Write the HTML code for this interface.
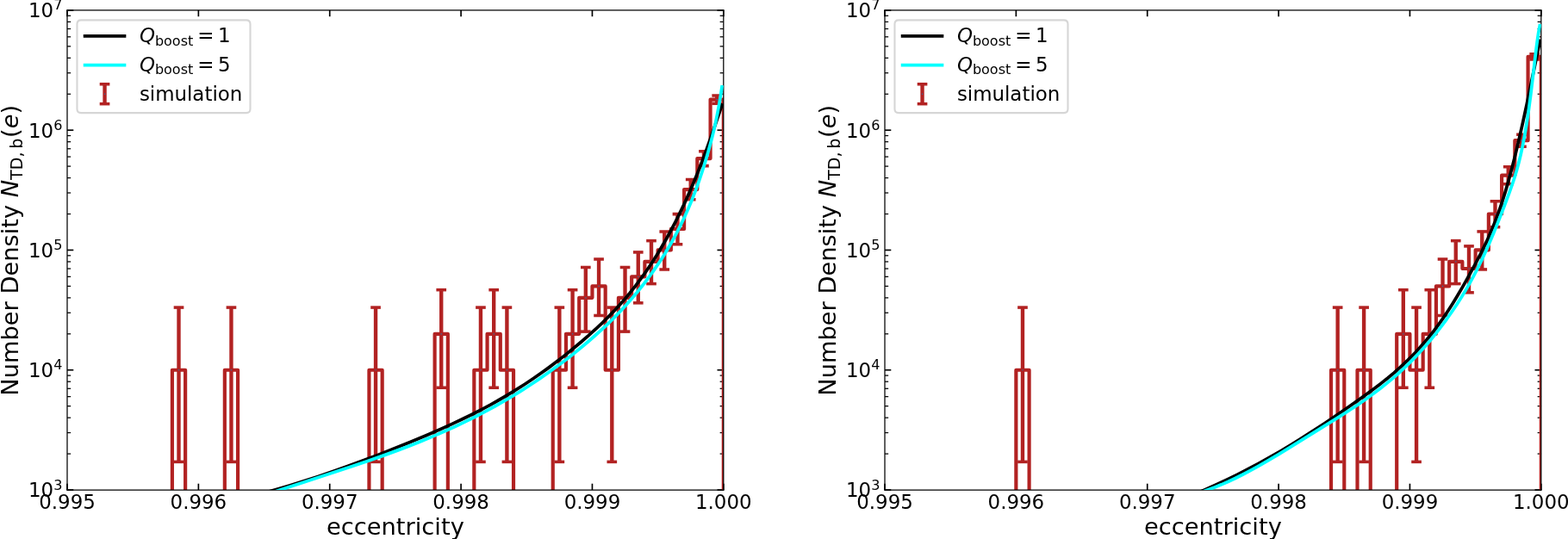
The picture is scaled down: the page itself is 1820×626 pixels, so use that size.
<!DOCTYPE html>
<html><head><meta charset="utf-8"><style>html,body{margin:0;padding:0;background:#fff;}svg{display:block;}</style></head><body>
<svg width="1820" height="626" viewBox="0 0 1820 626" version="1.1">
 <defs>
  <style type="text/css">*{stroke-linejoin: round; stroke-linecap: butt}</style>
 </defs>
 <g id="figure_1">
  <g id="patch_1">
   <path d="M 0 626 
L 1820 626 
L 1820 0 
L 0 0 
z
" style="fill: #ffffff"/>
  </g>
  <g id="axes_1">
   <g id="patch_2">
    <path d="M 78 569 
L 839.8 569 
L 839.8 11.9 
L 78 11.9 
z
" style="fill: #ffffff"/>
   </g>
   <g id="matplotlib.axis_1">
    <g id="xtick_1">
     <g id="line2d_1">
      <g>
       <path d="M 0 0 L 0 -7.291667" transform="translate(78 569)" style="stroke: #000000; stroke-width: 1.666667"/>
      </g>
     </g>
     <g id="line2d_2">
      <g>
       <path d="M 0 0 L 0 7.291667" transform="translate(78 11.9)" style="stroke: #000000; stroke-width: 1.666667"/>
      </g>
     </g>
     <g id="text_1">
      <text style="font-size: 22.916667px; font-family: 'DejaVu Sans', sans-serif; text-anchor: middle" x="78" y="590.579753" transform="rotate(-0 78 590.579753)">0.995</text>
     </g>
    </g>
    <g id="xtick_2">
     <g id="line2d_3">
      <g>
       <path d="M 0 0 L 0 -7.291667" transform="translate(230.36 569)" style="stroke: #000000; stroke-width: 1.666667"/>
      </g>
     </g>
     <g id="line2d_4">
      <g>
       <path d="M 0 0 L 0 7.291667" transform="translate(230.36 11.9)" style="stroke: #000000; stroke-width: 1.666667"/>
      </g>
     </g>
     <g id="text_2">
      <text style="font-size: 22.916667px; font-family: 'DejaVu Sans', sans-serif; text-anchor: middle" x="230.36" y="590.579753" transform="rotate(-0 230.36 590.579753)">0.996</text>
     </g>
    </g>
    <g id="xtick_3">
     <g id="line2d_5">
      <g>
       <path d="M 0 0 L 0 -7.291667" transform="translate(382.72 569)" style="stroke: #000000; stroke-width: 1.666667"/>
      </g>
     </g>
     <g id="line2d_6">
      <g>
       <path d="M 0 0 L 0 7.291667" transform="translate(382.72 11.9)" style="stroke: #000000; stroke-width: 1.666667"/>
      </g>
     </g>
     <g id="text_3">
      <text style="font-size: 22.916667px; font-family: 'DejaVu Sans', sans-serif; text-anchor: middle" x="382.72" y="590.579753" transform="rotate(-0 382.72 590.579753)">0.997</text>
     </g>
    </g>
    <g id="xtick_4">
     <g id="line2d_7">
      <g>
       <path d="M 0 0 L 0 -7.291667" transform="translate(535.08 569)" style="stroke: #000000; stroke-width: 1.666667"/>
      </g>
     </g>
     <g id="line2d_8">
      <g>
       <path d="M 0 0 L 0 7.291667" transform="translate(535.08 11.9)" style="stroke: #000000; stroke-width: 1.666667"/>
      </g>
     </g>
     <g id="text_4">
      <text style="font-size: 22.916667px; font-family: 'DejaVu Sans', sans-serif; text-anchor: middle" x="535.08" y="590.579753" transform="rotate(-0 535.08 590.579753)">0.998</text>
     </g>
    </g>
    <g id="xtick_5">
     <g id="line2d_9">
      <g>
       <path d="M 0 0 L 0 -7.291667" transform="translate(687.44 569)" style="stroke: #000000; stroke-width: 1.666667"/>
      </g>
     </g>
     <g id="line2d_10">
      <g>
       <path d="M 0 0 L 0 7.291667" transform="translate(687.44 11.9)" style="stroke: #000000; stroke-width: 1.666667"/>
      </g>
     </g>
     <g id="text_5">
      <text style="font-size: 22.916667px; font-family: 'DejaVu Sans', sans-serif; text-anchor: middle" x="687.44" y="590.579753" transform="rotate(-0 687.44 590.579753)">0.999</text>
     </g>
    </g>
    <g id="xtick_6">
     <g id="line2d_11">
      <g>
       <path d="M 0 0 L 0 -7.291667" transform="translate(839.8 569)" style="stroke: #000000; stroke-width: 1.666667"/>
      </g>
     </g>
     <g id="line2d_12">
      <g>
       <path d="M 0 0 L 0 7.291667" transform="translate(839.8 11.9)" style="stroke: #000000; stroke-width: 1.666667"/>
      </g>
     </g>
     <g id="text_6">
      <text style="font-size: 22.916667px; font-family: 'DejaVu Sans', sans-serif; text-anchor: middle" x="839.8" y="590.579753" transform="rotate(-0 839.8 590.579753)">1.000</text>
     </g>
    </g>
    <g id="text_7">
     <text style="font-size: 27.291667px; font-family: 'DejaVu Sans', sans-serif; text-anchor: middle" x="458.9" y="621.187272" transform="rotate(-0 458.9 621.187272)">eccentricity</text>
    </g>
   </g>
   <g id="matplotlib.axis_2">
    <g id="ytick_1">
     <g id="line2d_13">
      <g>
       <path d="M 0 0 L 7.291667 0" transform="translate(78 569)" style="stroke: #000000; stroke-width: 1.666667"/>
      </g>
     </g>
     <g id="line2d_14">
      <g>
       <path d="M 0 0 L -7.291667 0" transform="translate(839.8 569)" style="stroke: #000000; stroke-width: 1.666667"/>
      </g>
     </g>
     <g id="text_8">
      <g transform="translate(32.958333 577.706543)">
       <text style="white-space: pre"><tspan x="0 14.553772" y="-0.240625" style="font-size: 22.916667px; font-family: 'DejaVu Sans', sans-serif">10</tspan><tspan x="29.327661" y="-9.045313" style="font-size: 16.041667px; font-family: 'DejaVu Sans', sans-serif">3</tspan></text>
      </g>
     </g>
    </g>
    <g id="ytick_2">
     <g id="line2d_15">
      <g>
       <path d="M 0 0 L 7.291667 0" transform="translate(78 429.725)" style="stroke: #000000; stroke-width: 1.666667"/>
      </g>
     </g>
     <g id="line2d_16">
      <g>
       <path d="M 0 0 L -7.291667 0" transform="translate(839.8 429.725)" style="stroke: #000000; stroke-width: 1.666667"/>
      </g>
     </g>
     <g id="text_9">
      <g transform="translate(32.958333 438.431543)">
       <text style="white-space: pre"><tspan x="0 14.553772" y="-0.459375" style="font-size: 22.916667px; font-family: 'DejaVu Sans', sans-serif">10</tspan><tspan x="29.327661" y="-9.264063" style="font-size: 16.041667px; font-family: 'DejaVu Sans', sans-serif">4</tspan></text>
      </g>
     </g>
    </g>
    <g id="ytick_3">
     <g id="line2d_17">
      <g>
       <path d="M 0 0 L 7.291667 0" transform="translate(78 290.45)" style="stroke: #000000; stroke-width: 1.666667"/>
      </g>
     </g>
     <g id="line2d_18">
      <g>
       <path d="M 0 0 L -7.291667 0" transform="translate(839.8 290.45)" style="stroke: #000000; stroke-width: 1.666667"/>
      </g>
     </g>
     <g id="text_10">
      <g transform="translate(32.958333 299.156543)">
       <text style="white-space: pre"><tspan x="0 14.553772" y="-0.459375" style="font-size: 22.916667px; font-family: 'DejaVu Sans', sans-serif">10</tspan><tspan x="29.327661" y="-9.264063" style="font-size: 16.041667px; font-family: 'DejaVu Sans', sans-serif">5</tspan></text>
      </g>
     </g>
    </g>
    <g id="ytick_4">
     <g id="line2d_19">
      <g>
       <path d="M 0 0 L 7.291667 0" transform="translate(78 151.175)" style="stroke: #000000; stroke-width: 1.666667"/>
      </g>
     </g>
     <g id="line2d_20">
      <g>
       <path d="M 0 0 L -7.291667 0" transform="translate(839.8 151.175)" style="stroke: #000000; stroke-width: 1.666667"/>
      </g>
     </g>
     <g id="text_11">
      <g transform="translate(32.958333 159.881543)">
       <text style="white-space: pre"><tspan x="0 14.553772" y="-0.240625" style="font-size: 22.916667px; font-family: 'DejaVu Sans', sans-serif">10</tspan><tspan x="29.327661" y="-9.045313" style="font-size: 16.041667px; font-family: 'DejaVu Sans', sans-serif">6</tspan></text>
      </g>
     </g>
    </g>
    <g id="ytick_5">
     <g id="line2d_21">
      <g>
       <path d="M 0 0 L 7.291667 0" transform="translate(78 11.9)" style="stroke: #000000; stroke-width: 1.666667"/>
      </g>
     </g>
     <g id="line2d_22">
      <g>
       <path d="M 0 0 L -7.291667 0" transform="translate(839.8 11.9)" style="stroke: #000000; stroke-width: 1.666667"/>
      </g>
     </g>
     <g id="text_12">
      <g transform="translate(32.958333 20.606543)">
       <text style="white-space: pre"><tspan x="0 14.553772" y="-0.459375" style="font-size: 22.916667px; font-family: 'DejaVu Sans', sans-serif">10</tspan><tspan x="29.327661" y="-9.264063" style="font-size: 16.041667px; font-family: 'DejaVu Sans', sans-serif">7</tspan></text>
      </g>
     </g>
    </g>
    <g id="ytick_6">
     <g id="line2d_23">
      <g>
       <path d="M 0 0 L 4.166667 0" transform="translate(78 527.074047)" style="stroke: #000000; stroke-width: 1.25"/>
      </g>
     </g>
     <g id="line2d_24">
      <g>
       <path d="M 0 0 L -4.166667 0" transform="translate(839.8 527.074047)" style="stroke: #000000; stroke-width: 1.25"/>
      </g>
     </g>
    </g>
    <g id="ytick_7">
     <g id="line2d_25">
      <g>
       <path d="M 0 0 L 4.166667 0" transform="translate(78 502.548937)" style="stroke: #000000; stroke-width: 1.25"/>
      </g>
     </g>
     <g id="line2d_26">
      <g>
       <path d="M 0 0 L -4.166667 0" transform="translate(839.8 502.548937)" style="stroke: #000000; stroke-width: 1.25"/>
      </g>
     </g>
    </g>
    <g id="ytick_8">
     <g id="line2d_27">
      <g>
       <path d="M 0 0 L 4.166667 0" transform="translate(78 485.148095)" style="stroke: #000000; stroke-width: 1.25"/>
      </g>
     </g>
     <g id="line2d_28">
      <g>
       <path d="M 0 0 L -4.166667 0" transform="translate(839.8 485.148095)" style="stroke: #000000; stroke-width: 1.25"/>
      </g>
     </g>
    </g>
    <g id="ytick_9">
     <g id="line2d_29">
      <g>
       <path d="M 0 0 L 4.166667 0" transform="translate(78 471.650953)" style="stroke: #000000; stroke-width: 1.25"/>
      </g>
     </g>
     <g id="line2d_30">
      <g>
       <path d="M 0 0 L -4.166667 0" transform="translate(839.8 471.650953)" style="stroke: #000000; stroke-width: 1.25"/>
      </g>
     </g>
    </g>
    <g id="ytick_10">
     <g id="line2d_31">
      <g>
       <path d="M 0 0 L 4.166667 0" transform="translate(78 460.622985)" style="stroke: #000000; stroke-width: 1.25"/>
      </g>
     </g>
     <g id="line2d_32">
      <g>
       <path d="M 0 0 L -4.166667 0" transform="translate(839.8 460.622985)" style="stroke: #000000; stroke-width: 1.25"/>
      </g>
     </g>
    </g>
    <g id="ytick_11">
     <g id="line2d_33">
      <g>
       <path d="M 0 0 L 4.166667 0" transform="translate(78 451.29897)" style="stroke: #000000; stroke-width: 1.25"/>
      </g>
     </g>
     <g id="line2d_34">
      <g>
       <path d="M 0 0 L -4.166667 0" transform="translate(839.8 451.29897)" style="stroke: #000000; stroke-width: 1.25"/>
      </g>
     </g>
    </g>
    <g id="ytick_12">
     <g id="line2d_35">
      <g>
       <path d="M 0 0 L 4.166667 0" transform="translate(78 443.222142)" style="stroke: #000000; stroke-width: 1.25"/>
      </g>
     </g>
     <g id="line2d_36">
      <g>
       <path d="M 0 0 L -4.166667 0" transform="translate(839.8 443.222142)" style="stroke: #000000; stroke-width: 1.25"/>
      </g>
     </g>
    </g>
    <g id="ytick_13">
     <g id="line2d_37">
      <g>
       <path d="M 0 0 L 4.166667 0" transform="translate(78 436.097874)" style="stroke: #000000; stroke-width: 1.25"/>
      </g>
     </g>
     <g id="line2d_38">
      <g>
       <path d="M 0 0 L -4.166667 0" transform="translate(839.8 436.097874)" style="stroke: #000000; stroke-width: 1.25"/>
      </g>
     </g>
    </g>
    <g id="ytick_14">
     <g id="line2d_39">
      <g>
       <path d="M 0 0 L 4.166667 0" transform="translate(78 387.799047)" style="stroke: #000000; stroke-width: 1.25"/>
      </g>
     </g>
     <g id="line2d_40">
      <g>
       <path d="M 0 0 L -4.166667 0" transform="translate(839.8 387.799047)" style="stroke: #000000; stroke-width: 1.25"/>
      </g>
     </g>
    </g>
    <g id="ytick_15">
     <g id="line2d_41">
      <g>
       <path d="M 0 0 L 4.166667 0" transform="translate(78 363.273937)" style="stroke: #000000; stroke-width: 1.25"/>
      </g>
     </g>
     <g id="line2d_42">
      <g>
       <path d="M 0 0 L -4.166667 0" transform="translate(839.8 363.273937)" style="stroke: #000000; stroke-width: 1.25"/>
      </g>
     </g>
    </g>
    <g id="ytick_16">
     <g id="line2d_43">
      <g>
       <path d="M 0 0 L 4.166667 0" transform="translate(78 345.873095)" style="stroke: #000000; stroke-width: 1.25"/>
      </g>
     </g>
     <g id="line2d_44">
      <g>
       <path d="M 0 0 L -4.166667 0" transform="translate(839.8 345.873095)" style="stroke: #000000; stroke-width: 1.25"/>
      </g>
     </g>
    </g>
    <g id="ytick_17">
     <g id="line2d_45">
      <g>
       <path d="M 0 0 L 4.166667 0" transform="translate(78 332.375953)" style="stroke: #000000; stroke-width: 1.25"/>
      </g>
     </g>
     <g id="line2d_46">
      <g>
       <path d="M 0 0 L -4.166667 0" transform="translate(839.8 332.375953)" style="stroke: #000000; stroke-width: 1.25"/>
      </g>
     </g>
    </g>
    <g id="ytick_18">
     <g id="line2d_47">
      <g>
       <path d="M 0 0 L 4.166667 0" transform="translate(78 321.347985)" style="stroke: #000000; stroke-width: 1.25"/>
      </g>
     </g>
     <g id="line2d_48">
      <g>
       <path d="M 0 0 L -4.166667 0" transform="translate(839.8 321.347985)" style="stroke: #000000; stroke-width: 1.25"/>
      </g>
     </g>
    </g>
    <g id="ytick_19">
     <g id="line2d_49">
      <g>
       <path d="M 0 0 L 4.166667 0" transform="translate(78 312.02397)" style="stroke: #000000; stroke-width: 1.25"/>
      </g>
     </g>
     <g id="line2d_50">
      <g>
       <path d="M 0 0 L -4.166667 0" transform="translate(839.8 312.02397)" style="stroke: #000000; stroke-width: 1.25"/>
      </g>
     </g>
    </g>
    <g id="ytick_20">
     <g id="line2d_51">
      <g>
       <path d="M 0 0 L 4.166667 0" transform="translate(78 303.947142)" style="stroke: #000000; stroke-width: 1.25"/>
      </g>
     </g>
     <g id="line2d_52">
      <g>
       <path d="M 0 0 L -4.166667 0" transform="translate(839.8 303.947142)" style="stroke: #000000; stroke-width: 1.25"/>
      </g>
     </g>
    </g>
    <g id="ytick_21">
     <g id="line2d_53">
      <g>
       <path d="M 0 0 L 4.166667 0" transform="translate(78 296.822874)" style="stroke: #000000; stroke-width: 1.25"/>
      </g>
     </g>
     <g id="line2d_54">
      <g>
       <path d="M 0 0 L -4.166667 0" transform="translate(839.8 296.822874)" style="stroke: #000000; stroke-width: 1.25"/>
      </g>
     </g>
    </g>
    <g id="ytick_22">
     <g id="line2d_55">
      <g>
       <path d="M 0 0 L 4.166667 0" transform="translate(78 248.524047)" style="stroke: #000000; stroke-width: 1.25"/>
      </g>
     </g>
     <g id="line2d_56">
      <g>
       <path d="M 0 0 L -4.166667 0" transform="translate(839.8 248.524047)" style="stroke: #000000; stroke-width: 1.25"/>
      </g>
     </g>
    </g>
    <g id="ytick_23">
     <g id="line2d_57">
      <g>
       <path d="M 0 0 L 4.166667 0" transform="translate(78 223.998937)" style="stroke: #000000; stroke-width: 1.25"/>
      </g>
     </g>
     <g id="line2d_58">
      <g>
       <path d="M 0 0 L -4.166667 0" transform="translate(839.8 223.998937)" style="stroke: #000000; stroke-width: 1.25"/>
      </g>
     </g>
    </g>
    <g id="ytick_24">
     <g id="line2d_59">
      <g>
       <path d="M 0 0 L 4.166667 0" transform="translate(78 206.598095)" style="stroke: #000000; stroke-width: 1.25"/>
      </g>
     </g>
     <g id="line2d_60">
      <g>
       <path d="M 0 0 L -4.166667 0" transform="translate(839.8 206.598095)" style="stroke: #000000; stroke-width: 1.25"/>
      </g>
     </g>
    </g>
    <g id="ytick_25">
     <g id="line2d_61">
      <g>
       <path d="M 0 0 L 4.166667 0" transform="translate(78 193.100953)" style="stroke: #000000; stroke-width: 1.25"/>
      </g>
     </g>
     <g id="line2d_62">
      <g>
       <path d="M 0 0 L -4.166667 0" transform="translate(839.8 193.100953)" style="stroke: #000000; stroke-width: 1.25"/>
      </g>
     </g>
    </g>
    <g id="ytick_26">
     <g id="line2d_63">
      <g>
       <path d="M 0 0 L 4.166667 0" transform="translate(78 182.072985)" style="stroke: #000000; stroke-width: 1.25"/>
      </g>
     </g>
     <g id="line2d_64">
      <g>
       <path d="M 0 0 L -4.166667 0" transform="translate(839.8 182.072985)" style="stroke: #000000; stroke-width: 1.25"/>
      </g>
     </g>
    </g>
    <g id="ytick_27">
     <g id="line2d_65">
      <g>
       <path d="M 0 0 L 4.166667 0" transform="translate(78 172.74897)" style="stroke: #000000; stroke-width: 1.25"/>
      </g>
     </g>
     <g id="line2d_66">
      <g>
       <path d="M 0 0 L -4.166667 0" transform="translate(839.8 172.74897)" style="stroke: #000000; stroke-width: 1.25"/>
      </g>
     </g>
    </g>
    <g id="ytick_28">
     <g id="line2d_67">
      <g>
       <path d="M 0 0 L 4.166667 0" transform="translate(78 164.672142)" style="stroke: #000000; stroke-width: 1.25"/>
      </g>
     </g>
     <g id="line2d_68">
      <g>
       <path d="M 0 0 L -4.166667 0" transform="translate(839.8 164.672142)" style="stroke: #000000; stroke-width: 1.25"/>
      </g>
     </g>
    </g>
    <g id="ytick_29">
     <g id="line2d_69">
      <g>
       <path d="M 0 0 L 4.166667 0" transform="translate(78 157.547874)" style="stroke: #000000; stroke-width: 1.25"/>
      </g>
     </g>
     <g id="line2d_70">
      <g>
       <path d="M 0 0 L -4.166667 0" transform="translate(839.8 157.547874)" style="stroke: #000000; stroke-width: 1.25"/>
      </g>
     </g>
    </g>
    <g id="ytick_30">
     <g id="line2d_71">
      <g>
       <path d="M 0 0 L 4.166667 0" transform="translate(78 109.249047)" style="stroke: #000000; stroke-width: 1.25"/>
      </g>
     </g>
     <g id="line2d_72">
      <g>
       <path d="M 0 0 L -4.166667 0" transform="translate(839.8 109.249047)" style="stroke: #000000; stroke-width: 1.25"/>
      </g>
     </g>
    </g>
    <g id="ytick_31">
     <g id="line2d_73">
      <g>
       <path d="M 0 0 L 4.166667 0" transform="translate(78 84.723937)" style="stroke: #000000; stroke-width: 1.25"/>
      </g>
     </g>
     <g id="line2d_74">
      <g>
       <path d="M 0 0 L -4.166667 0" transform="translate(839.8 84.723937)" style="stroke: #000000; stroke-width: 1.25"/>
      </g>
     </g>
    </g>
    <g id="ytick_32">
     <g id="line2d_75">
      <g>
       <path d="M 0 0 L 4.166667 0" transform="translate(78 67.323095)" style="stroke: #000000; stroke-width: 1.25"/>
      </g>
     </g>
     <g id="line2d_76">
      <g>
       <path d="M 0 0 L -4.166667 0" transform="translate(839.8 67.323095)" style="stroke: #000000; stroke-width: 1.25"/>
      </g>
     </g>
    </g>
    <g id="ytick_33">
     <g id="line2d_77">
      <g>
       <path d="M 0 0 L 4.166667 0" transform="translate(78 53.825953)" style="stroke: #000000; stroke-width: 1.25"/>
      </g>
     </g>
     <g id="line2d_78">
      <g>
       <path d="M 0 0 L -4.166667 0" transform="translate(839.8 53.825953)" style="stroke: #000000; stroke-width: 1.25"/>
      </g>
     </g>
    </g>
    <g id="ytick_34">
     <g id="line2d_79">
      <g>
       <path d="M 0 0 L 4.166667 0" transform="translate(78 42.797985)" style="stroke: #000000; stroke-width: 1.25"/>
      </g>
     </g>
     <g id="line2d_80">
      <g>
       <path d="M 0 0 L -4.166667 0" transform="translate(839.8 42.797985)" style="stroke: #000000; stroke-width: 1.25"/>
      </g>
     </g>
    </g>
    <g id="ytick_35">
     <g id="line2d_81">
      <g>
       <path d="M 0 0 L 4.166667 0" transform="translate(78 33.47397)" style="stroke: #000000; stroke-width: 1.25"/>
      </g>
     </g>
     <g id="line2d_82">
      <g>
       <path d="M 0 0 L -4.166667 0" transform="translate(839.8 33.47397)" style="stroke: #000000; stroke-width: 1.25"/>
      </g>
     </g>
    </g>
    <g id="ytick_36">
     <g id="line2d_83">
      <g>
       <path d="M 0 0 L 4.166667 0" transform="translate(78 25.397142)" style="stroke: #000000; stroke-width: 1.25"/>
      </g>
     </g>
     <g id="line2d_84">
      <g>
       <path d="M 0 0 L -4.166667 0" transform="translate(839.8 25.397142)" style="stroke: #000000; stroke-width: 1.25"/>
      </g>
     </g>
    </g>
    <g id="ytick_37">
     <g id="line2d_85">
      <g>
       <path d="M 0 0 L 4.166667 0" transform="translate(78 18.272874)" style="stroke: #000000; stroke-width: 1.25"/>
      </g>
     </g>
     <g id="line2d_86">
      <g>
       <path d="M 0 0 L -4.166667 0" transform="translate(839.8 18.272874)" style="stroke: #000000; stroke-width: 1.25"/>
      </g>
     </g>
    </g>
    <g id="text_13">
     <g transform="translate(21.96875 459.658333) rotate(-90)">
      <text style="white-space: pre"><tspan x="0 20.384277 37.655029 64.199829 81.497192 98.262329 109.465698 118.127686 139.110718 155.875854 173.146606 187.34375 194.914673 205.599121 221.725586" y="-0.484375" style="font-size: 27.291667px; font-family: 'DejaVu Sans', sans-serif">Number Density </tspan><tspan x="230.387573" y="-0.484375" style="font-style: oblique; font-size: 27.291667px; font-family: 'DejaVu Sans', sans-serif">N</tspan><tspan x="250.771851 262.423621 277.111743 286.891406" y="3.945312" style="font-size: 19.104167px; font-family: 'DejaVu Sans', sans-serif">TD,b</tspan><tspan x="299.737842" y="-0.484375" style="font-size: 27.291667px; font-family: 'DejaVu Sans', sans-serif">(</tspan><tspan x="310.369067" y="-0.484375" style="font-style: oblique; font-size: 27.291667px; font-family: 'DejaVu Sans', sans-serif">e</tspan><tspan x="327.134204" y="-0.484375" style="font-size: 27.291667px; font-family: 'DejaVu Sans', sans-serif">)</tspan></text>
     </g>
    </g>
   </g>
   <g id="line2d_87">
    <path d="M 199.888 627 
L 199.888 429.725 
L 215.124 429.725 
L 215.124 627 
M 260.832 627 
L 260.832 429.725 
L 276.068 429.725 
L 276.068 627 
M 428.428 627 
L 428.428 429.725 
L 443.664 429.725 
L 443.664 627 
M 504.608 627 
L 504.608 387.799047 
L 519.844 387.799047 
L 519.844 627 
M 550.316 627 
L 550.316 429.725 
L 565.552 429.725 
L 565.552 387.799047 
L 580.788 387.799047 
L 580.788 429.725 
L 596.024 429.725 
L 596.024 627 
M 641.732 627 
L 641.732 429.725 
L 656.968 429.725 
L 656.968 387.799047 
L 672.204 387.799047 
L 672.204 345.873095 
L 687.44 345.873095 
L 687.44 332.375953 
L 702.676 332.375953 
L 702.676 429.725 
L 717.912 429.725 
L 717.912 345.873095 
L 733.148 345.873095 
L 733.148 321.347985 
L 748.384 321.347985 
L 748.384 303.947142 
L 763.62 303.947142 
L 763.62 290.45 
L 778.856 290.45 
L 778.856 265.92489 
L 794.092 265.92489 
L 794.092 220.095237 
L 809.328 220.095237 
L 809.328 184.123566 
L 824.564 184.123566 
L 824.564 115.621922 
L 839.8 115.621922 
L 839.8 627 
" clip-path="url(#p58a983189e)" style="fill: none; stroke: #b22222; stroke-width: 4.166667; stroke-linecap: square"/>
   </g>
   <g id="patch_3">
    <path d="M 78 569 
L 78 11.9 
" style="fill: none; stroke: #000000; stroke-width: 1.25; stroke-linejoin: miter; stroke-linecap: square"/>
   </g>
   <g id="patch_4">
    <path d="M 839.8 569 
L 839.8 11.9 
" style="fill: none; stroke: #000000; stroke-width: 1.25; stroke-linejoin: miter; stroke-linecap: square"/>
   </g>
   <g id="patch_5">
    <path d="M 78 569 
L 839.8 569 
" style="fill: none; stroke: #000000; stroke-width: 1.25; stroke-linejoin: miter; stroke-linecap: square"/>
   </g>
   <g id="patch_6">
    <path d="M 78 11.9 
L 839.8 11.9 
" style="fill: none; stroke: #000000; stroke-width: 1.25; stroke-linejoin: miter; stroke-linecap: square"/>
   </g>
   <g id="LineCollection_1">
    <path d="M 207.506 536.384234 
L 207.506 357.091125 
" clip-path="url(#p58a983189e)" style="fill: none; stroke: #b22222; stroke-width: 4.375"/>
    <path d="M 268.45 536.384234 
L 268.45 357.091125 
" clip-path="url(#p58a983189e)" style="fill: none; stroke: #b22222; stroke-width: 4.375"/>
    <path d="M 436.046 536.384234 
L 436.046 357.091125 
" clip-path="url(#p58a983189e)" style="fill: none; stroke: #b22222; stroke-width: 4.375"/>
    <path d="M 512.226 450.268781 
L 512.226 336.65746 
" clip-path="url(#p58a983189e)" style="fill: none; stroke: #b22222; stroke-width: 4.375"/>
    <path d="M 557.934 536.384234 
L 557.934 357.091125 
" clip-path="url(#p58a983189e)" style="fill: none; stroke: #b22222; stroke-width: 4.375"/>
    <path d="M 573.17 450.268781 
L 573.17 336.65746 
" clip-path="url(#p58a983189e)" style="fill: none; stroke: #b22222; stroke-width: 4.375"/>
    <path d="M 588.406 536.384234 
L 588.406 357.091125 
" clip-path="url(#p58a983189e)" style="fill: none; stroke: #b22222; stroke-width: 4.375"/>
    <path d="M 649.35 536.384234 
L 649.35 357.091125 
" clip-path="url(#p58a983189e)" style="fill: none; stroke: #b22222; stroke-width: 4.375"/>
    <path d="M 664.586 450.268781 
L 664.586 336.65746 
" clip-path="url(#p58a983189e)" style="fill: none; stroke: #b22222; stroke-width: 4.375"/>
    <path d="M 679.822 385.108744 
L 679.822 310.492906 
" clip-path="url(#p58a983189e)" style="fill: none; stroke: #b22222; stroke-width: 4.375"/>
    <path d="M 695.058 366.470144 
L 695.058 301.011012 
" clip-path="url(#p58a983189e)" style="fill: none; stroke: #b22222; stroke-width: 4.375"/>
    <path d="M 710.294 536.384234 
L 710.294 357.091125 
" clip-path="url(#p58a983189e)" style="fill: none; stroke: #b22222; stroke-width: 4.375"/>
    <path d="M 725.53 385.108744 
L 725.53 310.492906 
" clip-path="url(#p58a983189e)" style="fill: none; stroke: #b22222; stroke-width: 4.375"/>
    <path d="M 740.766 351.823478 
L 740.766 292.931296 
" clip-path="url(#p58a983189e)" style="fill: none; stroke: #b22222; stroke-width: 4.375"/>
    <path d="M 756.002 329.580796 
L 756.002 279.633904 
" clip-path="url(#p58a983189e)" style="fill: none; stroke: #b22222; stroke-width: 4.375"/>
    <path d="M 771.238 312.93043 
L 771.238 268.905654 
" clip-path="url(#p58a983189e)" style="fill: none; stroke: #b22222; stroke-width: 4.375"/>
    <path d="M 786.474 283.732422 
L 786.474 248.619004 
" clip-path="url(#p58a983189e)" style="fill: none; stroke: #b22222; stroke-width: 4.375"/>
    <path d="M 801.71 231.786555 
L 801.71 208.56099 
" clip-path="url(#p58a983189e)" style="fill: none; stroke: #b22222; stroke-width: 4.375"/>
    <path d="M 816.946 192.608769 
L 816.946 175.701754 
" clip-path="url(#p58a983189e)" style="fill: none; stroke: #b22222; stroke-width: 4.375"/>
    <path d="M 832.182 120.302162 
L 832.182 110.953037 
" clip-path="url(#p58a983189e)" style="fill: none; stroke: #b22222; stroke-width: 4.375"/>
   </g>
   <g id="line2d_88">
    <g clip-path="url(#p58a983189e)">
     <path d="M 5.833333 0 L -5.833333 -0" transform="translate(207.506 536.384234)" style="fill: #1f77b4; stroke: #b22222; stroke-width: 3.541667"/>
     <path d="M 5.833333 0 L -5.833333 -0" transform="translate(268.45 536.384234)" style="fill: #1f77b4; stroke: #b22222; stroke-width: 3.541667"/>
     <path d="M 5.833333 0 L -5.833333 -0" transform="translate(436.046 536.384234)" style="fill: #1f77b4; stroke: #b22222; stroke-width: 3.541667"/>
     <path d="M 5.833333 0 L -5.833333 -0" transform="translate(512.226 450.268781)" style="fill: #1f77b4; stroke: #b22222; stroke-width: 3.541667"/>
     <path d="M 5.833333 0 L -5.833333 -0" transform="translate(557.934 536.384234)" style="fill: #1f77b4; stroke: #b22222; stroke-width: 3.541667"/>
     <path d="M 5.833333 0 L -5.833333 -0" transform="translate(573.17 450.268781)" style="fill: #1f77b4; stroke: #b22222; stroke-width: 3.541667"/>
     <path d="M 5.833333 0 L -5.833333 -0" transform="translate(588.406 536.384234)" style="fill: #1f77b4; stroke: #b22222; stroke-width: 3.541667"/>
     <path d="M 5.833333 0 L -5.833333 -0" transform="translate(649.35 536.384234)" style="fill: #1f77b4; stroke: #b22222; stroke-width: 3.541667"/>
     <path d="M 5.833333 0 L -5.833333 -0" transform="translate(664.586 450.268781)" style="fill: #1f77b4; stroke: #b22222; stroke-width: 3.541667"/>
     <path d="M 5.833333 0 L -5.833333 -0" transform="translate(679.822 385.108744)" style="fill: #1f77b4; stroke: #b22222; stroke-width: 3.541667"/>
     <path d="M 5.833333 0 L -5.833333 -0" transform="translate(695.058 366.470144)" style="fill: #1f77b4; stroke: #b22222; stroke-width: 3.541667"/>
     <path d="M 5.833333 0 L -5.833333 -0" transform="translate(710.294 536.384234)" style="fill: #1f77b4; stroke: #b22222; stroke-width: 3.541667"/>
     <path d="M 5.833333 0 L -5.833333 -0" transform="translate(725.53 385.108744)" style="fill: #1f77b4; stroke: #b22222; stroke-width: 3.541667"/>
     <path d="M 5.833333 0 L -5.833333 -0" transform="translate(740.766 351.823478)" style="fill: #1f77b4; stroke: #b22222; stroke-width: 3.541667"/>
     <path d="M 5.833333 0 L -5.833333 -0" transform="translate(756.002 329.580796)" style="fill: #1f77b4; stroke: #b22222; stroke-width: 3.541667"/>
     <path d="M 5.833333 0 L -5.833333 -0" transform="translate(771.238 312.93043)" style="fill: #1f77b4; stroke: #b22222; stroke-width: 3.541667"/>
     <path d="M 5.833333 0 L -5.833333 -0" transform="translate(786.474 283.732422)" style="fill: #1f77b4; stroke: #b22222; stroke-width: 3.541667"/>
     <path d="M 5.833333 0 L -5.833333 -0" transform="translate(801.71 231.786555)" style="fill: #1f77b4; stroke: #b22222; stroke-width: 3.541667"/>
     <path d="M 5.833333 0 L -5.833333 -0" transform="translate(816.946 192.608769)" style="fill: #1f77b4; stroke: #b22222; stroke-width: 3.541667"/>
     <path d="M 5.833333 0 L -5.833333 -0" transform="translate(832.182 120.302162)" style="fill: #1f77b4; stroke: #b22222; stroke-width: 3.541667"/>
    </g>
   </g>
   <g id="line2d_89">
    <g clip-path="url(#p58a983189e)">
     <path d="M 5.833333 0 L -5.833333 -0" transform="translate(207.506 357.091125)" style="fill: #1f77b4; stroke: #b22222; stroke-width: 3.541667"/>
     <path d="M 5.833333 0 L -5.833333 -0" transform="translate(268.45 357.091125)" style="fill: #1f77b4; stroke: #b22222; stroke-width: 3.541667"/>
     <path d="M 5.833333 0 L -5.833333 -0" transform="translate(436.046 357.091125)" style="fill: #1f77b4; stroke: #b22222; stroke-width: 3.541667"/>
     <path d="M 5.833333 0 L -5.833333 -0" transform="translate(512.226 336.65746)" style="fill: #1f77b4; stroke: #b22222; stroke-width: 3.541667"/>
     <path d="M 5.833333 0 L -5.833333 -0" transform="translate(557.934 357.091125)" style="fill: #1f77b4; stroke: #b22222; stroke-width: 3.541667"/>
     <path d="M 5.833333 0 L -5.833333 -0" transform="translate(573.17 336.65746)" style="fill: #1f77b4; stroke: #b22222; stroke-width: 3.541667"/>
     <path d="M 5.833333 0 L -5.833333 -0" transform="translate(588.406 357.091125)" style="fill: #1f77b4; stroke: #b22222; stroke-width: 3.541667"/>
     <path d="M 5.833333 0 L -5.833333 -0" transform="translate(649.35 357.091125)" style="fill: #1f77b4; stroke: #b22222; stroke-width: 3.541667"/>
     <path d="M 5.833333 0 L -5.833333 -0" transform="translate(664.586 336.65746)" style="fill: #1f77b4; stroke: #b22222; stroke-width: 3.541667"/>
     <path d="M 5.833333 0 L -5.833333 -0" transform="translate(679.822 310.492906)" style="fill: #1f77b4; stroke: #b22222; stroke-width: 3.541667"/>
     <path d="M 5.833333 0 L -5.833333 -0" transform="translate(695.058 301.011012)" style="fill: #1f77b4; stroke: #b22222; stroke-width: 3.541667"/>
     <path d="M 5.833333 0 L -5.833333 -0" transform="translate(710.294 357.091125)" style="fill: #1f77b4; stroke: #b22222; stroke-width: 3.541667"/>
     <path d="M 5.833333 0 L -5.833333 -0" transform="translate(725.53 310.492906)" style="fill: #1f77b4; stroke: #b22222; stroke-width: 3.541667"/>
     <path d="M 5.833333 0 L -5.833333 -0" transform="translate(740.766 292.931296)" style="fill: #1f77b4; stroke: #b22222; stroke-width: 3.541667"/>
     <path d="M 5.833333 0 L -5.833333 -0" transform="translate(756.002 279.633904)" style="fill: #1f77b4; stroke: #b22222; stroke-width: 3.541667"/>
     <path d="M 5.833333 0 L -5.833333 -0" transform="translate(771.238 268.905654)" style="fill: #1f77b4; stroke: #b22222; stroke-width: 3.541667"/>
     <path d="M 5.833333 0 L -5.833333 -0" transform="translate(786.474 248.619004)" style="fill: #1f77b4; stroke: #b22222; stroke-width: 3.541667"/>
     <path d="M 5.833333 0 L -5.833333 -0" transform="translate(801.71 208.56099)" style="fill: #1f77b4; stroke: #b22222; stroke-width: 3.541667"/>
     <path d="M 5.833333 0 L -5.833333 -0" transform="translate(816.946 175.701754)" style="fill: #1f77b4; stroke: #b22222; stroke-width: 3.541667"/>
     <path d="M 5.833333 0 L -5.833333 -0" transform="translate(832.182 110.953037)" style="fill: #1f77b4; stroke: #b22222; stroke-width: 3.541667"/>
    </g>
   </g>
   <g id="line2d_90">
    <g clip-path="url(#p58a983189e)">
     <path d="M -0.6 0.6 L 0.6 0.6 L 0.6 -0.6 L -0.6 -0.6 z" transform="translate(207.506 429.725)" style="fill: #1f77b4"/>
     <path d="M -0.6 0.6 L 0.6 0.6 L 0.6 -0.6 L -0.6 -0.6 z" transform="translate(268.45 429.725)" style="fill: #1f77b4"/>
     <path d="M -0.6 0.6 L 0.6 0.6 L 0.6 -0.6 L -0.6 -0.6 z" transform="translate(436.046 429.725)" style="fill: #1f77b4"/>
     <path d="M -0.6 0.6 L 0.6 0.6 L 0.6 -0.6 L -0.6 -0.6 z" transform="translate(512.226 387.799047)" style="fill: #1f77b4"/>
     <path d="M -0.6 0.6 L 0.6 0.6 L 0.6 -0.6 L -0.6 -0.6 z" transform="translate(557.934 429.725)" style="fill: #1f77b4"/>
     <path d="M -0.6 0.6 L 0.6 0.6 L 0.6 -0.6 L -0.6 -0.6 z" transform="translate(573.17 387.799047)" style="fill: #1f77b4"/>
     <path d="M -0.6 0.6 L 0.6 0.6 L 0.6 -0.6 L -0.6 -0.6 z" transform="translate(588.406 429.725)" style="fill: #1f77b4"/>
     <path d="M -0.6 0.6 L 0.6 0.6 L 0.6 -0.6 L -0.6 -0.6 z" transform="translate(649.35 429.725)" style="fill: #1f77b4"/>
     <path d="M -0.6 0.6 L 0.6 0.6 L 0.6 -0.6 L -0.6 -0.6 z" transform="translate(664.586 387.799047)" style="fill: #1f77b4"/>
     <path d="M -0.6 0.6 L 0.6 0.6 L 0.6 -0.6 L -0.6 -0.6 z" transform="translate(679.822 345.873095)" style="fill: #1f77b4"/>
     <path d="M -0.6 0.6 L 0.6 0.6 L 0.6 -0.6 L -0.6 -0.6 z" transform="translate(695.058 332.375953)" style="fill: #1f77b4"/>
     <path d="M -0.6 0.6 L 0.6 0.6 L 0.6 -0.6 L -0.6 -0.6 z" transform="translate(710.294 429.725)" style="fill: #1f77b4"/>
     <path d="M -0.6 0.6 L 0.6 0.6 L 0.6 -0.6 L -0.6 -0.6 z" transform="translate(725.53 345.873095)" style="fill: #1f77b4"/>
     <path d="M -0.6 0.6 L 0.6 0.6 L 0.6 -0.6 L -0.6 -0.6 z" transform="translate(740.766 321.347985)" style="fill: #1f77b4"/>
     <path d="M -0.6 0.6 L 0.6 0.6 L 0.6 -0.6 L -0.6 -0.6 z" transform="translate(756.002 303.947142)" style="fill: #1f77b4"/>
     <path d="M -0.6 0.6 L 0.6 0.6 L 0.6 -0.6 L -0.6 -0.6 z" transform="translate(771.238 290.45)" style="fill: #1f77b4"/>
     <path d="M -0.6 0.6 L 0.6 0.6 L 0.6 -0.6 L -0.6 -0.6 z" transform="translate(786.474 265.92489)" style="fill: #1f77b4"/>
     <path d="M -0.6 0.6 L 0.6 0.6 L 0.6 -0.6 L -0.6 -0.6 z" transform="translate(801.71 220.095237)" style="fill: #1f77b4"/>
     <path d="M -0.6 0.6 L 0.6 0.6 L 0.6 -0.6 L -0.6 -0.6 z" transform="translate(816.946 184.123566)" style="fill: #1f77b4"/>
     <path d="M -0.6 0.6 L 0.6 0.6 L 0.6 -0.6 L -0.6 -0.6 z" transform="translate(832.182 115.621922)" style="fill: #1f77b4"/>
    </g>
   </g>
   <g id="line2d_91">
    <path d="M 295.357064 575.889996 
L 335.923827 564.008898 
L 352.52137 558.83898 
L 369.118914 553.432641 
L 385.716458 547.798005 
L 403.351348 541.570147 
L 420.986239 535.103479 
L 438.621129 528.407747 
L 457.293366 521.079306 
L 475.965603 513.516552 
L 494.637839 505.719773 
L 510.198037 498.983264 
L 523.683541 492.908794 
L 536.131699 487.063661 
L 547.54251 481.472111 
L 558.953322 475.62752 
L 569.326787 470.070432 
L 579.700252 464.258765 
L 590.073716 458.172749 
L 599.409835 452.450992 
L 608.745953 446.490489 
L 618.082072 440.284237 
L 627.41819 433.82523 
L 636.754308 427.106467 
L 646.090427 420.120941 
L 655.426545 412.861649 
L 664.762664 405.321588 
L 674.098782 397.493752 
L 683.4349 389.370258 
L 691.733672 381.863694 
L 698.995098 375.014805 
L 706.256523 367.850099 
L 712.480602 361.418573 
L 718.704681 354.684845 
L 724.92876 347.616527 
L 731.152839 340.181231 
L 737.376918 332.346569 
L 742.56365 325.489246 
L 747.750383 318.313352 
L 752.937115 310.800142 
L 758.123848 302.930874 
L 763.31058 294.686805 
L 768.497313 286.049192 
L 773.684045 276.999292 
L 778.870777 267.518362 
L 784.05751 257.587659 
L 789.244242 247.188002 
L 794.430975 236.290735 
L 799.617707 224.858024 
L 804.80444 212.85166 
L 809.991172 200.233437 
L 815.177905 186.965145 
L 820.364637 173.008957 
L 825.551369 158.402191 
L 833.850141 134.252481 
L 837.999527 122.119478 
L 837.999527 122.119478 
" clip-path="url(#p58a983189e)" style="fill: none; stroke: #000000; stroke-width: 3.75; stroke-linecap: square"/>
   </g>
   <g id="line2d_92">
    <path d="M 300.858508 577.006629 
L 353.575755 559.656901 
L 405.918154 542.571497 
L 427.470907 535.270618 
L 444.918373 529.139097 
L 461.339518 523.133949 
L 475.70802 517.656069 
L 490.076522 511.937376 
L 503.418702 506.384564 
L 515.73456 501.029612 
L 528.050419 495.434582 
L 540.366278 489.580041 
L 551.655815 483.968807 
L 562.945352 478.108215 
L 574.234889 471.983297 
L 584.498104 466.17322 
L 594.76132 460.121075 
L 605.024535 453.815618 
L 615.287751 447.245601 
L 625.550966 440.39978 
L 635.814182 433.266909 
L 646.077397 425.835742 
L 655.314291 418.883354 
L 664.551185 411.67204 
L 673.788079 404.1936 
L 683.024973 396.439409 
L 691.235546 389.288531 
L 699.446118 381.840101 
L 706.630369 375.035322 
L 713.81462 367.923628 
L 720.998871 360.468105 
L 727.1568 353.776015 
L 733.314729 346.780948 
L 739.472658 339.459658 
L 745.630588 331.788899 
L 751.788517 323.745424 
L 757.946446 315.30516 
L 763.078054 307.927645 
L 768.209662 300.171871 
L 773.34127 291.973969 
L 778.472877 283.270068 
L 782.578164 275.899707 
L 786.68345 268.131928 
L 790.788736 259.93403 
L 794.894022 251.268029 
L 798.999308 242.060446 
L 803.104595 232.223172 
L 807.209881 221.668057 
L 811.315167 210.306948 
L 814.394132 201.204153 
L 817.473096 191.561212 
L 820.552061 181.340935 
L 823.631026 170.506016 
L 826.70999 158.895671 
L 828.762633 150.472699 
L 830.815276 141.302159 
L 832.86792 131.211443 
L 834.920563 120.027944 
L 836.973206 107.579055 
L 837.999527 100.82615 
L 837.999527 100.82615 
" clip-path="url(#p58a983189e)" style="fill: none; stroke: #00ffff; stroke-width: 3.75; stroke-linecap: square"/>
   </g>
   <g id="legend_1">
    <g id="patch_7">
     <path d="M 94.041667 131.145443 
L 285.915039 131.145443 
Q 290.498372 131.145443 290.498372 126.562109 
L 290.498372 27.941667 
Q 290.498372 23.358333 285.915039 23.358333 
L 94.041667 23.358333 
Q 89.458333 23.358333 89.458333 27.941667 
L 89.458333 126.562109 
Q 89.458333 131.145443 94.041667 131.145443 
z
" style="fill: #ffffff; opacity: 0.8; stroke: #cccccc; stroke-width: 2.083333; stroke-linejoin: miter"/>
    </g>
    <g id="line2d_93">
     <path d="M 98.625 41.917253 
L 121.541667 41.917253 
L 144.458333 41.917253 
" style="fill: none; stroke: #000000; stroke-width: 3.75; stroke-linecap: square"/>
    </g>
    <g id="text_14">
     <g transform="translate(161.875 49.938086)">
      <text style="white-space: pre"><tspan x="0" y="-0.921875" style="font-style: oblique; font-size: 22.916667px; font-family: 'DejaVu Sans', sans-serif">Q</tspan><tspan x="18.005127 28.169312 37.966022 47.762732 56.105182" y="2.851562" style="font-size: 16.041667px; font-family: 'DejaVu Sans', sans-serif">boost</tspan><tspan x="67.469031 91.092383" y="-0.921875" style="font-size: 22.916667px; font-family: 'DejaVu Sans', sans-serif">=1</tspan></text>
     </g>
    </g>
    <g id="line2d_94">
     <path d="M 98.625 75.554622 
L 121.541667 75.554622 
L 144.458333 75.554622 
" style="fill: none; stroke: #00ffff; stroke-width: 3.75; stroke-linecap: square"/>
    </g>
    <g id="text_15">
     <g transform="translate(161.875 83.575456)">
      <text style="white-space: pre"><tspan x="0" y="-0.921875" style="font-style: oblique; font-size: 22.916667px; font-family: 'DejaVu Sans', sans-serif">Q</tspan><tspan x="18.005127 28.169312 37.966022 47.762732 56.105182" y="2.851562" style="font-size: 16.041667px; font-family: 'DejaVu Sans', sans-serif">boost</tspan><tspan x="67.469031 91.092383" y="-0.921875" style="font-size: 22.916667px; font-family: 'DejaVu Sans', sans-serif">=5</tspan></text>
     </g>
    </g>
    <g id="LineCollection_2">
     <path d="M 121.541667 120.650326 
L 121.541667 97.733659 
" style="fill: none; stroke: #b22222; stroke-width: 4.375"/>
    </g>
    <g id="line2d_95">
     <g>
      <path d="M 5.833333 0 L -5.833333 -0" transform="translate(121.541667 120.650326)" style="fill: #1f77b4; stroke: #b22222; stroke-width: 3.541667"/>
     </g>
    </g>
    <g id="line2d_96">
     <g>
      <path d="M 5.833333 0 L -5.833333 -0" transform="translate(121.541667 97.733659)" style="fill: #1f77b4; stroke: #b22222; stroke-width: 3.541667"/>
     </g>
    </g>
    <g id="line2d_97"/>
    <g id="line2d_98">
     <g>
      <path d="M -0.6 0.6 L 0.6 0.6 L 0.6 -0.6 L -0.6 -0.6 z" transform="translate(121.541667 109.191992)" style="fill: #1f77b4"/>
     </g>
    </g>
    <g id="text_16">
     <text style="font-size: 22.916667px; font-family: 'DejaVu Sans', sans-serif; text-anchor: start" x="161.875" y="117.212826" transform="rotate(-0 161.875 117.212826)">simulation</text>
    </g>
   </g>
  </g>
  <g id="axes_2">
   <g id="patch_8">
    <path d="M 1027 569 
L 1788.8 569 
L 1788.8 11.9 
L 1027 11.9 
z
" style="fill: #ffffff"/>
   </g>
   <g id="matplotlib.axis_3">
    <g id="xtick_7">
     <g id="line2d_99">
      <g>
       <path d="M 0 0 L 0 -7.291667" transform="translate(1027 569)" style="stroke: #000000; stroke-width: 1.666667"/>
      </g>
     </g>
     <g id="line2d_100">
      <g>
       <path d="M 0 0 L 0 7.291667" transform="translate(1027 11.9)" style="stroke: #000000; stroke-width: 1.666667"/>
      </g>
     </g>
     <g id="text_17">
      <text style="font-size: 22.916667px; font-family: 'DejaVu Sans', sans-serif; text-anchor: middle" x="1027" y="590.579753" transform="rotate(-0 1027 590.579753)">0.995</text>
     </g>
    </g>
    <g id="xtick_8">
     <g id="line2d_101">
      <g>
       <path d="M 0 0 L 0 -7.291667" transform="translate(1179.36 569)" style="stroke: #000000; stroke-width: 1.666667"/>
      </g>
     </g>
     <g id="line2d_102">
      <g>
       <path d="M 0 0 L 0 7.291667" transform="translate(1179.36 11.9)" style="stroke: #000000; stroke-width: 1.666667"/>
      </g>
     </g>
     <g id="text_18">
      <text style="font-size: 22.916667px; font-family: 'DejaVu Sans', sans-serif; text-anchor: middle" x="1179.36" y="590.579753" transform="rotate(-0 1179.36 590.579753)">0.996</text>
     </g>
    </g>
    <g id="xtick_9">
     <g id="line2d_103">
      <g>
       <path d="M 0 0 L 0 -7.291667" transform="translate(1331.72 569)" style="stroke: #000000; stroke-width: 1.666667"/>
      </g>
     </g>
     <g id="line2d_104">
      <g>
       <path d="M 0 0 L 0 7.291667" transform="translate(1331.72 11.9)" style="stroke: #000000; stroke-width: 1.666667"/>
      </g>
     </g>
     <g id="text_19">
      <text style="font-size: 22.916667px; font-family: 'DejaVu Sans', sans-serif; text-anchor: middle" x="1331.72" y="590.579753" transform="rotate(-0 1331.72 590.579753)">0.997</text>
     </g>
    </g>
    <g id="xtick_10">
     <g id="line2d_105">
      <g>
       <path d="M 0 0 L 0 -7.291667" transform="translate(1484.08 569)" style="stroke: #000000; stroke-width: 1.666667"/>
      </g>
     </g>
     <g id="line2d_106">
      <g>
       <path d="M 0 0 L 0 7.291667" transform="translate(1484.08 11.9)" style="stroke: #000000; stroke-width: 1.666667"/>
      </g>
     </g>
     <g id="text_20">
      <text style="font-size: 22.916667px; font-family: 'DejaVu Sans', sans-serif; text-anchor: middle" x="1484.08" y="590.579753" transform="rotate(-0 1484.08 590.579753)">0.998</text>
     </g>
    </g>
    <g id="xtick_11">
     <g id="line2d_107">
      <g>
       <path d="M 0 0 L 0 -7.291667" transform="translate(1636.44 569)" style="stroke: #000000; stroke-width: 1.666667"/>
      </g>
     </g>
     <g id="line2d_108">
      <g>
       <path d="M 0 0 L 0 7.291667" transform="translate(1636.44 11.9)" style="stroke: #000000; stroke-width: 1.666667"/>
      </g>
     </g>
     <g id="text_21">
      <text style="font-size: 22.916667px; font-family: 'DejaVu Sans', sans-serif; text-anchor: middle" x="1636.44" y="590.579753" transform="rotate(-0 1636.44 590.579753)">0.999</text>
     </g>
    </g>
    <g id="xtick_12">
     <g id="line2d_109">
      <g>
       <path d="M 0 0 L 0 -7.291667" transform="translate(1788.8 569)" style="stroke: #000000; stroke-width: 1.666667"/>
      </g>
     </g>
     <g id="line2d_110">
      <g>
       <path d="M 0 0 L 0 7.291667" transform="translate(1788.8 11.9)" style="stroke: #000000; stroke-width: 1.666667"/>
      </g>
     </g>
     <g id="text_22">
      <text style="font-size: 22.916667px; font-family: 'DejaVu Sans', sans-serif; text-anchor: middle" x="1788.8" y="590.579753" transform="rotate(-0 1788.8 590.579753)">1.000</text>
     </g>
    </g>
    <g id="text_23">
     <text style="font-size: 27.291667px; font-family: 'DejaVu Sans', sans-serif; text-anchor: middle" x="1407.9" y="621.187272" transform="rotate(-0 1407.9 621.187272)">eccentricity</text>
    </g>
   </g>
   <g id="matplotlib.axis_4">
    <g id="ytick_38">
     <g id="line2d_111">
      <g>
       <path d="M 0 0 L 7.291667 0" transform="translate(1027 569)" style="stroke: #000000; stroke-width: 1.666667"/>
      </g>
     </g>
     <g id="line2d_112">
      <g>
       <path d="M 0 0 L -7.291667 0" transform="translate(1788.8 569)" style="stroke: #000000; stroke-width: 1.666667"/>
      </g>
     </g>
     <g id="text_24">
      <g transform="translate(981.958333 577.706543)">
       <text style="white-space: pre"><tspan x="0 14.553772" y="-0.240625" style="font-size: 22.916667px; font-family: 'DejaVu Sans', sans-serif">10</tspan><tspan x="29.327661" y="-9.045313" style="font-size: 16.041667px; font-family: 'DejaVu Sans', sans-serif">3</tspan></text>
      </g>
     </g>
    </g>
    <g id="ytick_39">
     <g id="line2d_113">
      <g>
       <path d="M 0 0 L 7.291667 0" transform="translate(1027 429.725)" style="stroke: #000000; stroke-width: 1.666667"/>
      </g>
     </g>
     <g id="line2d_114">
      <g>
       <path d="M 0 0 L -7.291667 0" transform="translate(1788.8 429.725)" style="stroke: #000000; stroke-width: 1.666667"/>
      </g>
     </g>
     <g id="text_25">
      <g transform="translate(981.958333 438.431543)">
       <text style="white-space: pre"><tspan x="0 14.553772" y="-0.459375" style="font-size: 22.916667px; font-family: 'DejaVu Sans', sans-serif">10</tspan><tspan x="29.327661" y="-9.264063" style="font-size: 16.041667px; font-family: 'DejaVu Sans', sans-serif">4</tspan></text>
      </g>
     </g>
    </g>
    <g id="ytick_40">
     <g id="line2d_115">
      <g>
       <path d="M 0 0 L 7.291667 0" transform="translate(1027 290.45)" style="stroke: #000000; stroke-width: 1.666667"/>
      </g>
     </g>
     <g id="line2d_116">
      <g>
       <path d="M 0 0 L -7.291667 0" transform="translate(1788.8 290.45)" style="stroke: #000000; stroke-width: 1.666667"/>
      </g>
     </g>
     <g id="text_26">
      <g transform="translate(981.958333 299.156543)">
       <text style="white-space: pre"><tspan x="0 14.553772" y="-0.459375" style="font-size: 22.916667px; font-family: 'DejaVu Sans', sans-serif">10</tspan><tspan x="29.327661" y="-9.264063" style="font-size: 16.041667px; font-family: 'DejaVu Sans', sans-serif">5</tspan></text>
      </g>
     </g>
    </g>
    <g id="ytick_41">
     <g id="line2d_117">
      <g>
       <path d="M 0 0 L 7.291667 0" transform="translate(1027 151.175)" style="stroke: #000000; stroke-width: 1.666667"/>
      </g>
     </g>
     <g id="line2d_118">
      <g>
       <path d="M 0 0 L -7.291667 0" transform="translate(1788.8 151.175)" style="stroke: #000000; stroke-width: 1.666667"/>
      </g>
     </g>
     <g id="text_27">
      <g transform="translate(981.958333 159.881543)">
       <text style="white-space: pre"><tspan x="0 14.553772" y="-0.240625" style="font-size: 22.916667px; font-family: 'DejaVu Sans', sans-serif">10</tspan><tspan x="29.327661" y="-9.045313" style="font-size: 16.041667px; font-family: 'DejaVu Sans', sans-serif">6</tspan></text>
      </g>
     </g>
    </g>
    <g id="ytick_42">
     <g id="line2d_119">
      <g>
       <path d="M 0 0 L 7.291667 0" transform="translate(1027 11.9)" style="stroke: #000000; stroke-width: 1.666667"/>
      </g>
     </g>
     <g id="line2d_120">
      <g>
       <path d="M 0 0 L -7.291667 0" transform="translate(1788.8 11.9)" style="stroke: #000000; stroke-width: 1.666667"/>
      </g>
     </g>
     <g id="text_28">
      <g transform="translate(981.958333 20.606543)">
       <text style="white-space: pre"><tspan x="0 14.553772" y="-0.459375" style="font-size: 22.916667px; font-family: 'DejaVu Sans', sans-serif">10</tspan><tspan x="29.327661" y="-9.264063" style="font-size: 16.041667px; font-family: 'DejaVu Sans', sans-serif">7</tspan></text>
      </g>
     </g>
    </g>
    <g id="ytick_43">
     <g id="line2d_121">
      <g>
       <path d="M 0 0 L 4.166667 0" transform="translate(1027 527.074047)" style="stroke: #000000; stroke-width: 1.25"/>
      </g>
     </g>
     <g id="line2d_122">
      <g>
       <path d="M 0 0 L -4.166667 0" transform="translate(1788.8 527.074047)" style="stroke: #000000; stroke-width: 1.25"/>
      </g>
     </g>
    </g>
    <g id="ytick_44">
     <g id="line2d_123">
      <g>
       <path d="M 0 0 L 4.166667 0" transform="translate(1027 502.548937)" style="stroke: #000000; stroke-width: 1.25"/>
      </g>
     </g>
     <g id="line2d_124">
      <g>
       <path d="M 0 0 L -4.166667 0" transform="translate(1788.8 502.548937)" style="stroke: #000000; stroke-width: 1.25"/>
      </g>
     </g>
    </g>
    <g id="ytick_45">
     <g id="line2d_125">
      <g>
       <path d="M 0 0 L 4.166667 0" transform="translate(1027 485.148095)" style="stroke: #000000; stroke-width: 1.25"/>
      </g>
     </g>
     <g id="line2d_126">
      <g>
       <path d="M 0 0 L -4.166667 0" transform="translate(1788.8 485.148095)" style="stroke: #000000; stroke-width: 1.25"/>
      </g>
     </g>
    </g>
    <g id="ytick_46">
     <g id="line2d_127">
      <g>
       <path d="M 0 0 L 4.166667 0" transform="translate(1027 471.650953)" style="stroke: #000000; stroke-width: 1.25"/>
      </g>
     </g>
     <g id="line2d_128">
      <g>
       <path d="M 0 0 L -4.166667 0" transform="translate(1788.8 471.650953)" style="stroke: #000000; stroke-width: 1.25"/>
      </g>
     </g>
    </g>
    <g id="ytick_47">
     <g id="line2d_129">
      <g>
       <path d="M 0 0 L 4.166667 0" transform="translate(1027 460.622985)" style="stroke: #000000; stroke-width: 1.25"/>
      </g>
     </g>
     <g id="line2d_130">
      <g>
       <path d="M 0 0 L -4.166667 0" transform="translate(1788.8 460.622985)" style="stroke: #000000; stroke-width: 1.25"/>
      </g>
     </g>
    </g>
    <g id="ytick_48">
     <g id="line2d_131">
      <g>
       <path d="M 0 0 L 4.166667 0" transform="translate(1027 451.29897)" style="stroke: #000000; stroke-width: 1.25"/>
      </g>
     </g>
     <g id="line2d_132">
      <g>
       <path d="M 0 0 L -4.166667 0" transform="translate(1788.8 451.29897)" style="stroke: #000000; stroke-width: 1.25"/>
      </g>
     </g>
    </g>
    <g id="ytick_49">
     <g id="line2d_133">
      <g>
       <path d="M 0 0 L 4.166667 0" transform="translate(1027 443.222142)" style="stroke: #000000; stroke-width: 1.25"/>
      </g>
     </g>
     <g id="line2d_134">
      <g>
       <path d="M 0 0 L -4.166667 0" transform="translate(1788.8 443.222142)" style="stroke: #000000; stroke-width: 1.25"/>
      </g>
     </g>
    </g>
    <g id="ytick_50">
     <g id="line2d_135">
      <g>
       <path d="M 0 0 L 4.166667 0" transform="translate(1027 436.097874)" style="stroke: #000000; stroke-width: 1.25"/>
      </g>
     </g>
     <g id="line2d_136">
      <g>
       <path d="M 0 0 L -4.166667 0" transform="translate(1788.8 436.097874)" style="stroke: #000000; stroke-width: 1.25"/>
      </g>
     </g>
    </g>
    <g id="ytick_51">
     <g id="line2d_137">
      <g>
       <path d="M 0 0 L 4.166667 0" transform="translate(1027 387.799047)" style="stroke: #000000; stroke-width: 1.25"/>
      </g>
     </g>
     <g id="line2d_138">
      <g>
       <path d="M 0 0 L -4.166667 0" transform="translate(1788.8 387.799047)" style="stroke: #000000; stroke-width: 1.25"/>
      </g>
     </g>
    </g>
    <g id="ytick_52">
     <g id="line2d_139">
      <g>
       <path d="M 0 0 L 4.166667 0" transform="translate(1027 363.273937)" style="stroke: #000000; stroke-width: 1.25"/>
      </g>
     </g>
     <g id="line2d_140">
      <g>
       <path d="M 0 0 L -4.166667 0" transform="translate(1788.8 363.273937)" style="stroke: #000000; stroke-width: 1.25"/>
      </g>
     </g>
    </g>
    <g id="ytick_53">
     <g id="line2d_141">
      <g>
       <path d="M 0 0 L 4.166667 0" transform="translate(1027 345.873095)" style="stroke: #000000; stroke-width: 1.25"/>
      </g>
     </g>
     <g id="line2d_142">
      <g>
       <path d="M 0 0 L -4.166667 0" transform="translate(1788.8 345.873095)" style="stroke: #000000; stroke-width: 1.25"/>
      </g>
     </g>
    </g>
    <g id="ytick_54">
     <g id="line2d_143">
      <g>
       <path d="M 0 0 L 4.166667 0" transform="translate(1027 332.375953)" style="stroke: #000000; stroke-width: 1.25"/>
      </g>
     </g>
     <g id="line2d_144">
      <g>
       <path d="M 0 0 L -4.166667 0" transform="translate(1788.8 332.375953)" style="stroke: #000000; stroke-width: 1.25"/>
      </g>
     </g>
    </g>
    <g id="ytick_55">
     <g id="line2d_145">
      <g>
       <path d="M 0 0 L 4.166667 0" transform="translate(1027 321.347985)" style="stroke: #000000; stroke-width: 1.25"/>
      </g>
     </g>
     <g id="line2d_146">
      <g>
       <path d="M 0 0 L -4.166667 0" transform="translate(1788.8 321.347985)" style="stroke: #000000; stroke-width: 1.25"/>
      </g>
     </g>
    </g>
    <g id="ytick_56">
     <g id="line2d_147">
      <g>
       <path d="M 0 0 L 4.166667 0" transform="translate(1027 312.02397)" style="stroke: #000000; stroke-width: 1.25"/>
      </g>
     </g>
     <g id="line2d_148">
      <g>
       <path d="M 0 0 L -4.166667 0" transform="translate(1788.8 312.02397)" style="stroke: #000000; stroke-width: 1.25"/>
      </g>
     </g>
    </g>
    <g id="ytick_57">
     <g id="line2d_149">
      <g>
       <path d="M 0 0 L 4.166667 0" transform="translate(1027 303.947142)" style="stroke: #000000; stroke-width: 1.25"/>
      </g>
     </g>
     <g id="line2d_150">
      <g>
       <path d="M 0 0 L -4.166667 0" transform="translate(1788.8 303.947142)" style="stroke: #000000; stroke-width: 1.25"/>
      </g>
     </g>
    </g>
    <g id="ytick_58">
     <g id="line2d_151">
      <g>
       <path d="M 0 0 L 4.166667 0" transform="translate(1027 296.822874)" style="stroke: #000000; stroke-width: 1.25"/>
      </g>
     </g>
     <g id="line2d_152">
      <g>
       <path d="M 0 0 L -4.166667 0" transform="translate(1788.8 296.822874)" style="stroke: #000000; stroke-width: 1.25"/>
      </g>
     </g>
    </g>
    <g id="ytick_59">
     <g id="line2d_153">
      <g>
       <path d="M 0 0 L 4.166667 0" transform="translate(1027 248.524047)" style="stroke: #000000; stroke-width: 1.25"/>
      </g>
     </g>
     <g id="line2d_154">
      <g>
       <path d="M 0 0 L -4.166667 0" transform="translate(1788.8 248.524047)" style="stroke: #000000; stroke-width: 1.25"/>
      </g>
     </g>
    </g>
    <g id="ytick_60">
     <g id="line2d_155">
      <g>
       <path d="M 0 0 L 4.166667 0" transform="translate(1027 223.998937)" style="stroke: #000000; stroke-width: 1.25"/>
      </g>
     </g>
     <g id="line2d_156">
      <g>
       <path d="M 0 0 L -4.166667 0" transform="translate(1788.8 223.998937)" style="stroke: #000000; stroke-width: 1.25"/>
      </g>
     </g>
    </g>
    <g id="ytick_61">
     <g id="line2d_157">
      <g>
       <path d="M 0 0 L 4.166667 0" transform="translate(1027 206.598095)" style="stroke: #000000; stroke-width: 1.25"/>
      </g>
     </g>
     <g id="line2d_158">
      <g>
       <path d="M 0 0 L -4.166667 0" transform="translate(1788.8 206.598095)" style="stroke: #000000; stroke-width: 1.25"/>
      </g>
     </g>
    </g>
    <g id="ytick_62">
     <g id="line2d_159">
      <g>
       <path d="M 0 0 L 4.166667 0" transform="translate(1027 193.100953)" style="stroke: #000000; stroke-width: 1.25"/>
      </g>
     </g>
     <g id="line2d_160">
      <g>
       <path d="M 0 0 L -4.166667 0" transform="translate(1788.8 193.100953)" style="stroke: #000000; stroke-width: 1.25"/>
      </g>
     </g>
    </g>
    <g id="ytick_63">
     <g id="line2d_161">
      <g>
       <path d="M 0 0 L 4.166667 0" transform="translate(1027 182.072985)" style="stroke: #000000; stroke-width: 1.25"/>
      </g>
     </g>
     <g id="line2d_162">
      <g>
       <path d="M 0 0 L -4.166667 0" transform="translate(1788.8 182.072985)" style="stroke: #000000; stroke-width: 1.25"/>
      </g>
     </g>
    </g>
    <g id="ytick_64">
     <g id="line2d_163">
      <g>
       <path d="M 0 0 L 4.166667 0" transform="translate(1027 172.74897)" style="stroke: #000000; stroke-width: 1.25"/>
      </g>
     </g>
     <g id="line2d_164">
      <g>
       <path d="M 0 0 L -4.166667 0" transform="translate(1788.8 172.74897)" style="stroke: #000000; stroke-width: 1.25"/>
      </g>
     </g>
    </g>
    <g id="ytick_65">
     <g id="line2d_165">
      <g>
       <path d="M 0 0 L 4.166667 0" transform="translate(1027 164.672142)" style="stroke: #000000; stroke-width: 1.25"/>
      </g>
     </g>
     <g id="line2d_166">
      <g>
       <path d="M 0 0 L -4.166667 0" transform="translate(1788.8 164.672142)" style="stroke: #000000; stroke-width: 1.25"/>
      </g>
     </g>
    </g>
    <g id="ytick_66">
     <g id="line2d_167">
      <g>
       <path d="M 0 0 L 4.166667 0" transform="translate(1027 157.547874)" style="stroke: #000000; stroke-width: 1.25"/>
      </g>
     </g>
     <g id="line2d_168">
      <g>
       <path d="M 0 0 L -4.166667 0" transform="translate(1788.8 157.547874)" style="stroke: #000000; stroke-width: 1.25"/>
      </g>
     </g>
    </g>
    <g id="ytick_67">
     <g id="line2d_169">
      <g>
       <path d="M 0 0 L 4.166667 0" transform="translate(1027 109.249047)" style="stroke: #000000; stroke-width: 1.25"/>
      </g>
     </g>
     <g id="line2d_170">
      <g>
       <path d="M 0 0 L -4.166667 0" transform="translate(1788.8 109.249047)" style="stroke: #000000; stroke-width: 1.25"/>
      </g>
     </g>
    </g>
    <g id="ytick_68">
     <g id="line2d_171">
      <g>
       <path d="M 0 0 L 4.166667 0" transform="translate(1027 84.723937)" style="stroke: #000000; stroke-width: 1.25"/>
      </g>
     </g>
     <g id="line2d_172">
      <g>
       <path d="M 0 0 L -4.166667 0" transform="translate(1788.8 84.723937)" style="stroke: #000000; stroke-width: 1.25"/>
      </g>
     </g>
    </g>
    <g id="ytick_69">
     <g id="line2d_173">
      <g>
       <path d="M 0 0 L 4.166667 0" transform="translate(1027 67.323095)" style="stroke: #000000; stroke-width: 1.25"/>
      </g>
     </g>
     <g id="line2d_174">
      <g>
       <path d="M 0 0 L -4.166667 0" transform="translate(1788.8 67.323095)" style="stroke: #000000; stroke-width: 1.25"/>
      </g>
     </g>
    </g>
    <g id="ytick_70">
     <g id="line2d_175">
      <g>
       <path d="M 0 0 L 4.166667 0" transform="translate(1027 53.825953)" style="stroke: #000000; stroke-width: 1.25"/>
      </g>
     </g>
     <g id="line2d_176">
      <g>
       <path d="M 0 0 L -4.166667 0" transform="translate(1788.8 53.825953)" style="stroke: #000000; stroke-width: 1.25"/>
      </g>
     </g>
    </g>
    <g id="ytick_71">
     <g id="line2d_177">
      <g>
       <path d="M 0 0 L 4.166667 0" transform="translate(1027 42.797985)" style="stroke: #000000; stroke-width: 1.25"/>
      </g>
     </g>
     <g id="line2d_178">
      <g>
       <path d="M 0 0 L -4.166667 0" transform="translate(1788.8 42.797985)" style="stroke: #000000; stroke-width: 1.25"/>
      </g>
     </g>
    </g>
    <g id="ytick_72">
     <g id="line2d_179">
      <g>
       <path d="M 0 0 L 4.166667 0" transform="translate(1027 33.47397)" style="stroke: #000000; stroke-width: 1.25"/>
      </g>
     </g>
     <g id="line2d_180">
      <g>
       <path d="M 0 0 L -4.166667 0" transform="translate(1788.8 33.47397)" style="stroke: #000000; stroke-width: 1.25"/>
      </g>
     </g>
    </g>
    <g id="ytick_73">
     <g id="line2d_181">
      <g>
       <path d="M 0 0 L 4.166667 0" transform="translate(1027 25.397142)" style="stroke: #000000; stroke-width: 1.25"/>
      </g>
     </g>
     <g id="line2d_182">
      <g>
       <path d="M 0 0 L -4.166667 0" transform="translate(1788.8 25.397142)" style="stroke: #000000; stroke-width: 1.25"/>
      </g>
     </g>
    </g>
    <g id="ytick_74">
     <g id="line2d_183">
      <g>
       <path d="M 0 0 L 4.166667 0" transform="translate(1027 18.272874)" style="stroke: #000000; stroke-width: 1.25"/>
      </g>
     </g>
     <g id="line2d_184">
      <g>
       <path d="M 0 0 L -4.166667 0" transform="translate(1788.8 18.272874)" style="stroke: #000000; stroke-width: 1.25"/>
      </g>
     </g>
    </g>
    <g id="text_29">
     <g transform="translate(970.96875 459.658333) rotate(-90)">
      <text style="white-space: pre"><tspan x="0 20.384277 37.655029 64.199829 81.497192 98.262329 109.465698 118.127686 139.110718 155.875854 173.146606 187.34375 194.914673 205.599121 221.725586" y="-0.484375" style="font-size: 27.291667px; font-family: 'DejaVu Sans', sans-serif">Number Density </tspan><tspan x="230.387573" y="-0.484375" style="font-style: oblique; font-size: 27.291667px; font-family: 'DejaVu Sans', sans-serif">N</tspan><tspan x="250.771851 262.423621 277.111743 286.891406" y="3.945312" style="font-size: 19.104167px; font-family: 'DejaVu Sans', sans-serif">TD,b</tspan><tspan x="299.737842" y="-0.484375" style="font-size: 27.291667px; font-family: 'DejaVu Sans', sans-serif">(</tspan><tspan x="310.369067" y="-0.484375" style="font-style: oblique; font-size: 27.291667px; font-family: 'DejaVu Sans', sans-serif">e</tspan><tspan x="327.134204" y="-0.484375" style="font-size: 27.291667px; font-family: 'DejaVu Sans', sans-serif">)</tspan></text>
     </g>
    </g>
   </g>
   <g id="line2d_185">
    <path d="M 1179.36 627 
L 1179.36 429.725 
L 1194.596 429.725 
L 1194.596 627 
M 1545.024 627 
L 1545.024 429.725 
L 1560.26 429.725 
L 1560.26 627 
M 1575.496 627 
L 1575.496 429.725 
L 1590.732 429.725 
L 1590.732 627 
M 1621.204 627 
L 1621.204 387.799047 
L 1636.44 387.799047 
L 1636.44 429.725 
L 1651.676 429.725 
L 1651.676 387.799047 
L 1666.912 387.799047 
L 1666.912 332.375953 
L 1682.148 332.375953 
L 1682.148 303.947142 
L 1697.384 303.947142 
L 1697.384 312.02397 
L 1712.62 312.02397 
L 1712.62 290.45 
L 1727.856 290.45 
L 1727.856 248.524047 
L 1743.092 248.524047 
L 1743.092 203.646955 
L 1758.328 203.646955 
L 1758.328 163.178576 
L 1773.564 163.178576 
L 1773.564 65.829528 
L 1788.8 65.829528 
L 1788.8 627 
" clip-path="url(#p12303fe849)" style="fill: none; stroke: #b22222; stroke-width: 4.166667; stroke-linecap: square"/>
   </g>
   <g id="patch_9">
    <path d="M 1027 569 
L 1027 11.9 
" style="fill: none; stroke: #000000; stroke-width: 1.25; stroke-linejoin: miter; stroke-linecap: square"/>
   </g>
   <g id="patch_10">
    <path d="M 1788.8 569 
L 1788.8 11.9 
" style="fill: none; stroke: #000000; stroke-width: 1.25; stroke-linejoin: miter; stroke-linecap: square"/>
   </g>
   <g id="patch_11">
    <path d="M 1027 569 
L 1788.8 569 
" style="fill: none; stroke: #000000; stroke-width: 1.25; stroke-linejoin: miter; stroke-linecap: square"/>
   </g>
   <g id="patch_12">
    <path d="M 1027 11.9 
L 1788.8 11.9 
" style="fill: none; stroke: #000000; stroke-width: 1.25; stroke-linejoin: miter; stroke-linecap: square"/>
   </g>
   <g id="LineCollection_3">
    <path d="M 1186.978 536.384234 
L 1186.978 357.091125 
" clip-path="url(#p12303fe849)" style="fill: none; stroke: #b22222; stroke-width: 4.375"/>
    <path d="M 1552.642 536.384234 
L 1552.642 357.091125 
" clip-path="url(#p12303fe849)" style="fill: none; stroke: #b22222; stroke-width: 4.375"/>
    <path d="M 1583.114 536.384234 
L 1583.114 357.091125 
" clip-path="url(#p12303fe849)" style="fill: none; stroke: #b22222; stroke-width: 4.375"/>
    <path d="M 1628.822 450.268781 
L 1628.822 336.65746 
" clip-path="url(#p12303fe849)" style="fill: none; stroke: #b22222; stroke-width: 4.375"/>
    <path d="M 1644.058 536.384234 
L 1644.058 357.091125 
" clip-path="url(#p12303fe849)" style="fill: none; stroke: #b22222; stroke-width: 4.375"/>
    <path d="M 1659.294 450.268781 
L 1659.294 336.65746 
" clip-path="url(#p12303fe849)" style="fill: none; stroke: #b22222; stroke-width: 4.375"/>
    <path d="M 1674.53 366.470144 
L 1674.53 301.011012 
" clip-path="url(#p12303fe849)" style="fill: none; stroke: #b22222; stroke-width: 4.375"/>
    <path d="M 1689.766 329.580796 
L 1689.766 279.633904 
" clip-path="url(#p12303fe849)" style="fill: none; stroke: #b22222; stroke-width: 4.375"/>
    <path d="M 1705.002 339.785286 
L 1705.002 285.885243 
" clip-path="url(#p12303fe849)" style="fill: none; stroke: #b22222; stroke-width: 4.375"/>
    <path d="M 1720.238 312.93043 
L 1720.238 268.905654 
" clip-path="url(#p12303fe849)" style="fill: none; stroke: #b22222; stroke-width: 4.375"/>
    <path d="M 1735.474 263.672378 
L 1735.474 233.698283 
" clip-path="url(#p12303fe849)" style="fill: none; stroke: #b22222; stroke-width: 4.375"/>
    <path d="M 1750.71 213.735578 
L 1750.71 193.662019 
" clip-path="url(#p12303fe849)" style="fill: none; stroke: #b22222; stroke-width: 4.375"/>
    <path d="M 1765.946 170.239676 
L 1765.946 156.154906 
" clip-path="url(#p12303fe849)" style="fill: none; stroke: #b22222; stroke-width: 4.375"/>
    <path d="M 1781.182 68.891604 
L 1781.182 62.770724 
" clip-path="url(#p12303fe849)" style="fill: none; stroke: #b22222; stroke-width: 4.375"/>
   </g>
   <g id="line2d_186">
    <g clip-path="url(#p12303fe849)">
     <path d="M 5.833333 0 L -5.833333 -0" transform="translate(1186.978 536.384234)" style="fill: #1f77b4; stroke: #b22222; stroke-width: 3.541667"/>
     <path d="M 5.833333 0 L -5.833333 -0" transform="translate(1552.642 536.384234)" style="fill: #1f77b4; stroke: #b22222; stroke-width: 3.541667"/>
     <path d="M 5.833333 0 L -5.833333 -0" transform="translate(1583.114 536.384234)" style="fill: #1f77b4; stroke: #b22222; stroke-width: 3.541667"/>
     <path d="M 5.833333 0 L -5.833333 -0" transform="translate(1628.822 450.268781)" style="fill: #1f77b4; stroke: #b22222; stroke-width: 3.541667"/>
     <path d="M 5.833333 0 L -5.833333 -0" transform="translate(1644.058 536.384234)" style="fill: #1f77b4; stroke: #b22222; stroke-width: 3.541667"/>
     <path d="M 5.833333 0 L -5.833333 -0" transform="translate(1659.294 450.268781)" style="fill: #1f77b4; stroke: #b22222; stroke-width: 3.541667"/>
     <path d="M 5.833333 0 L -5.833333 -0" transform="translate(1674.53 366.470144)" style="fill: #1f77b4; stroke: #b22222; stroke-width: 3.541667"/>
     <path d="M 5.833333 0 L -5.833333 -0" transform="translate(1689.766 329.580796)" style="fill: #1f77b4; stroke: #b22222; stroke-width: 3.541667"/>
     <path d="M 5.833333 0 L -5.833333 -0" transform="translate(1705.002 339.785286)" style="fill: #1f77b4; stroke: #b22222; stroke-width: 3.541667"/>
     <path d="M 5.833333 0 L -5.833333 -0" transform="translate(1720.238 312.93043)" style="fill: #1f77b4; stroke: #b22222; stroke-width: 3.541667"/>
     <path d="M 5.833333 0 L -5.833333 -0" transform="translate(1735.474 263.672378)" style="fill: #1f77b4; stroke: #b22222; stroke-width: 3.541667"/>
     <path d="M 5.833333 0 L -5.833333 -0" transform="translate(1750.71 213.735578)" style="fill: #1f77b4; stroke: #b22222; stroke-width: 3.541667"/>
     <path d="M 5.833333 0 L -5.833333 -0" transform="translate(1765.946 170.239676)" style="fill: #1f77b4; stroke: #b22222; stroke-width: 3.541667"/>
     <path d="M 5.833333 0 L -5.833333 -0" transform="translate(1781.182 68.891604)" style="fill: #1f77b4; stroke: #b22222; stroke-width: 3.541667"/>
    </g>
   </g>
   <g id="line2d_187">
    <g clip-path="url(#p12303fe849)">
     <path d="M 5.833333 0 L -5.833333 -0" transform="translate(1186.978 357.091125)" style="fill: #1f77b4; stroke: #b22222; stroke-width: 3.541667"/>
     <path d="M 5.833333 0 L -5.833333 -0" transform="translate(1552.642 357.091125)" style="fill: #1f77b4; stroke: #b22222; stroke-width: 3.541667"/>
     <path d="M 5.833333 0 L -5.833333 -0" transform="translate(1583.114 357.091125)" style="fill: #1f77b4; stroke: #b22222; stroke-width: 3.541667"/>
     <path d="M 5.833333 0 L -5.833333 -0" transform="translate(1628.822 336.65746)" style="fill: #1f77b4; stroke: #b22222; stroke-width: 3.541667"/>
     <path d="M 5.833333 0 L -5.833333 -0" transform="translate(1644.058 357.091125)" style="fill: #1f77b4; stroke: #b22222; stroke-width: 3.541667"/>
     <path d="M 5.833333 0 L -5.833333 -0" transform="translate(1659.294 336.65746)" style="fill: #1f77b4; stroke: #b22222; stroke-width: 3.541667"/>
     <path d="M 5.833333 0 L -5.833333 -0" transform="translate(1674.53 301.011012)" style="fill: #1f77b4; stroke: #b22222; stroke-width: 3.541667"/>
     <path d="M 5.833333 0 L -5.833333 -0" transform="translate(1689.766 279.633904)" style="fill: #1f77b4; stroke: #b22222; stroke-width: 3.541667"/>
     <path d="M 5.833333 0 L -5.833333 -0" transform="translate(1705.002 285.885243)" style="fill: #1f77b4; stroke: #b22222; stroke-width: 3.541667"/>
     <path d="M 5.833333 0 L -5.833333 -0" transform="translate(1720.238 268.905654)" style="fill: #1f77b4; stroke: #b22222; stroke-width: 3.541667"/>
     <path d="M 5.833333 0 L -5.833333 -0" transform="translate(1735.474 233.698283)" style="fill: #1f77b4; stroke: #b22222; stroke-width: 3.541667"/>
     <path d="M 5.833333 0 L -5.833333 -0" transform="translate(1750.71 193.662019)" style="fill: #1f77b4; stroke: #b22222; stroke-width: 3.541667"/>
     <path d="M 5.833333 0 L -5.833333 -0" transform="translate(1765.946 156.154906)" style="fill: #1f77b4; stroke: #b22222; stroke-width: 3.541667"/>
     <path d="M 5.833333 0 L -5.833333 -0" transform="translate(1781.182 62.770724)" style="fill: #1f77b4; stroke: #b22222; stroke-width: 3.541667"/>
    </g>
   </g>
   <g id="line2d_188">
    <g clip-path="url(#p12303fe849)">
     <path d="M -0.6 0.6 L 0.6 0.6 L 0.6 -0.6 L -0.6 -0.6 z" transform="translate(1186.978 429.725)" style="fill: #1f77b4"/>
     <path d="M -0.6 0.6 L 0.6 0.6 L 0.6 -0.6 L -0.6 -0.6 z" transform="translate(1552.642 429.725)" style="fill: #1f77b4"/>
     <path d="M -0.6 0.6 L 0.6 0.6 L 0.6 -0.6 L -0.6 -0.6 z" transform="translate(1583.114 429.725)" style="fill: #1f77b4"/>
     <path d="M -0.6 0.6 L 0.6 0.6 L 0.6 -0.6 L -0.6 -0.6 z" transform="translate(1628.822 387.799047)" style="fill: #1f77b4"/>
     <path d="M -0.6 0.6 L 0.6 0.6 L 0.6 -0.6 L -0.6 -0.6 z" transform="translate(1644.058 429.725)" style="fill: #1f77b4"/>
     <path d="M -0.6 0.6 L 0.6 0.6 L 0.6 -0.6 L -0.6 -0.6 z" transform="translate(1659.294 387.799047)" style="fill: #1f77b4"/>
     <path d="M -0.6 0.6 L 0.6 0.6 L 0.6 -0.6 L -0.6 -0.6 z" transform="translate(1674.53 332.375953)" style="fill: #1f77b4"/>
     <path d="M -0.6 0.6 L 0.6 0.6 L 0.6 -0.6 L -0.6 -0.6 z" transform="translate(1689.766 303.947142)" style="fill: #1f77b4"/>
     <path d="M -0.6 0.6 L 0.6 0.6 L 0.6 -0.6 L -0.6 -0.6 z" transform="translate(1705.002 312.02397)" style="fill: #1f77b4"/>
     <path d="M -0.6 0.6 L 0.6 0.6 L 0.6 -0.6 L -0.6 -0.6 z" transform="translate(1720.238 290.45)" style="fill: #1f77b4"/>
     <path d="M -0.6 0.6 L 0.6 0.6 L 0.6 -0.6 L -0.6 -0.6 z" transform="translate(1735.474 248.524047)" style="fill: #1f77b4"/>
     <path d="M -0.6 0.6 L 0.6 0.6 L 0.6 -0.6 L -0.6 -0.6 z" transform="translate(1750.71 203.646955)" style="fill: #1f77b4"/>
     <path d="M -0.6 0.6 L 0.6 0.6 L 0.6 -0.6 L -0.6 -0.6 z" transform="translate(1765.946 163.178576)" style="fill: #1f77b4"/>
     <path d="M -0.6 0.6 L 0.6 0.6 L 0.6 -0.6 L -0.6 -0.6 z" transform="translate(1781.182 65.829528)" style="fill: #1f77b4"/>
    </g>
   </g>
   <g id="line2d_189">
    <path d="M 1374.291176 579.597554 
L 1410.967138 563.307877 
L 1423.414494 557.451836 
L 1435.86185 551.338308 
L 1448.309206 544.96443 
L 1460.756562 538.327339 
L 1473.203918 531.424173 
L 1485.651274 524.252335 
L 1498.09863 516.816708 
L 1510.545986 509.130463 
L 1523.771302 500.704437 
L 1537.774578 491.50925 
L 1551.777853 482.051744 
L 1566.559089 471.805633 
L 1582.118284 460.752596 
L 1593.78768 452.234301 
L 1603.123197 445.139344 
L 1610.902795 438.947615 
L 1617.904432 433.100083 
L 1624.90607 426.942496 
L 1631.129748 421.170163 
L 1637.353426 415.081533 
L 1642.799144 409.468137 
L 1648.244863 403.564401 
L 1653.690581 397.347841 
L 1659.136299 390.795975 
L 1664.582018 383.886322 
L 1670.027736 376.596398 
L 1675.473454 368.903721 
L 1680.919172 360.785864 
L 1686.364891 352.237042 
L 1691.810609 343.291423 
L 1698.034287 332.633344 
L 1705.035925 320.160441 
L 1712.815522 305.80153 
L 1719.0392 293.86533 
L 1723.706959 284.399835 
L 1727.596758 276.021429 
L 1731.486556 267.078937 
L 1735.376355 257.461565 
L 1738.488194 249.207298 
L 1741.600033 240.393471 
L 1744.711872 230.963356 
L 1747.823711 220.863237 
L 1750.93555 210.086328 
L 1754.825349 195.709795 
L 1758.715148 180.384423 
L 1762.604947 164.171448 
L 1767.272705 143.630466 
L 1771.940464 122.028663 
L 1778.942101 88.416477 
L 1787.499659 47.363866 
L 1787.499659 47.363866 
" clip-path="url(#p12303fe849)" style="fill: none; stroke: #000000; stroke-width: 3.75; stroke-linecap: square"/>
   </g>
   <g id="line2d_190">
    <path d="M 1377.992148 577.630981 
L 1409.929992 565.995911 
L 1417.631413 562.848089 
L 1425.332833 559.459042 
L 1433.804396 555.475031 
L 1442.275959 551.247158 
L 1451.517664 546.386369 
L 1461.529511 540.864672 
L 1472.3115 534.6671 
L 1484.633773 527.330277 
L 1500.036614 517.891817 
L 1553.176417 484.832468 
L 1566.268832 476.481093 
L 1576.280679 469.849392 
L 1585.522384 463.465722 
L 1593.993947 457.339953 
L 1601.695367 451.503233 
L 1609.396788 445.375326 
L 1616.328067 439.582372 
L 1623.259345 433.49979 
L 1630.190624 427.102114 
L 1636.35176 421.130177 
L 1642.512897 414.871267 
L 1648.674034 408.307495 
L 1654.83517 401.420974 
L 1660.996307 394.193818 
L 1667.157443 386.60814 
L 1673.31858 378.646052 
L 1679.479716 370.289667 
L 1685.640853 361.520915 
L 1691.031847 353.477841 
L 1696.422842 345.024658 
L 1701.043694 337.402559 
L 1705.664547 329.388972 
L 1710.285399 320.942274 
L 1714.906252 312.020843 
L 1719.527104 302.58532 
L 1724.147956 292.634225 
L 1728.768809 282.197411 
L 1734.159803 269.448313 
L 1739.550798 256.128907 
L 1745.711934 240.271121 
L 1751.873071 223.803585 
L 1755.723781 212.973231 
L 1758.034207 205.932536 
L 1760.344634 198.264069 
L 1762.65506 189.787086 
L 1764.965486 180.320844 
L 1767.275912 169.684598 
L 1769.586338 157.697606 
L 1771.896765 144.179122 
L 1774.207191 128.948403 
L 1776.517617 111.824704 
L 1778.828043 92.745091 
L 1782.678754 60.004478 
L 1784.219038 48.153753 
L 1785.759322 37.827286 
L 1787.299606 29.566766 
L 1787.299606 29.566766 
" clip-path="url(#p12303fe849)" style="fill: none; stroke: #00ffff; stroke-width: 3.75; stroke-linecap: square"/>
   </g>
   <g id="legend_2">
    <g id="patch_13">
     <path d="M 1043.041667 131.145443 
L 1234.915039 131.145443 
Q 1239.498372 131.145443 1239.498372 126.562109 
L 1239.498372 27.941667 
Q 1239.498372 23.358333 1234.915039 23.358333 
L 1043.041667 23.358333 
Q 1038.458333 23.358333 1038.458333 27.941667 
L 1038.458333 126.562109 
Q 1038.458333 131.145443 1043.041667 131.145443 
z
" style="fill: #ffffff; opacity: 0.8; stroke: #cccccc; stroke-width: 2.083333; stroke-linejoin: miter"/>
    </g>
    <g id="line2d_191">
     <path d="M 1047.625 41.917253 
L 1070.541667 41.917253 
L 1093.458333 41.917253 
" style="fill: none; stroke: #000000; stroke-width: 3.75; stroke-linecap: square"/>
    </g>
    <g id="text_30">
     <g transform="translate(1110.875 49.938086)">
      <text style="white-space: pre"><tspan x="0" y="-0.921875" style="font-style: oblique; font-size: 22.916667px; font-family: 'DejaVu Sans', sans-serif">Q</tspan><tspan x="18.005127 28.169312 37.966022 47.762732 56.105182" y="2.851562" style="font-size: 16.041667px; font-family: 'DejaVu Sans', sans-serif">boost</tspan><tspan x="67.469031 91.092383" y="-0.921875" style="font-size: 22.916667px; font-family: 'DejaVu Sans', sans-serif">=1</tspan></text>
     </g>
    </g>
    <g id="line2d_192">
     <path d="M 1047.625 75.554622 
L 1070.541667 75.554622 
L 1093.458333 75.554622 
" style="fill: none; stroke: #00ffff; stroke-width: 3.75; stroke-linecap: square"/>
    </g>
    <g id="text_31">
     <g transform="translate(1110.875 83.575456)">
      <text style="white-space: pre"><tspan x="0" y="-0.921875" style="font-style: oblique; font-size: 22.916667px; font-family: 'DejaVu Sans', sans-serif">Q</tspan><tspan x="18.005127 28.169312 37.966022 47.762732 56.105182" y="2.851562" style="font-size: 16.041667px; font-family: 'DejaVu Sans', sans-serif">boost</tspan><tspan x="67.469031 91.092383" y="-0.921875" style="font-size: 22.916667px; font-family: 'DejaVu Sans', sans-serif">=5</tspan></text>
     </g>
    </g>
    <g id="LineCollection_4">
     <path d="M 1070.541667 120.650326 
L 1070.541667 97.733659 
" style="fill: none; stroke: #b22222; stroke-width: 4.375"/>
    </g>
    <g id="line2d_193">
     <g>
      <path d="M 5.833333 0 L -5.833333 -0" transform="translate(1070.541667 120.650326)" style="fill: #1f77b4; stroke: #b22222; stroke-width: 3.541667"/>
     </g>
    </g>
    <g id="line2d_194">
     <g>
      <path d="M 5.833333 0 L -5.833333 -0" transform="translate(1070.541667 97.733659)" style="fill: #1f77b4; stroke: #b22222; stroke-width: 3.541667"/>
     </g>
    </g>
    <g id="line2d_195"/>
    <g id="line2d_196">
     <g>
      <path d="M -0.6 0.6 L 0.6 0.6 L 0.6 -0.6 L -0.6 -0.6 z" transform="translate(1070.541667 109.191992)" style="fill: #1f77b4"/>
     </g>
    </g>
    <g id="text_32">
     <text style="font-size: 22.916667px; font-family: 'DejaVu Sans', sans-serif; text-anchor: start" x="1110.875" y="117.212826" transform="rotate(-0 1110.875 117.212826)">simulation</text>
    </g>
   </g>
  </g>
 </g>
 <defs>
  <clipPath id="p58a983189e">
   <rect x="78" y="11.9" width="761.8" height="557.1"/>
  </clipPath>
  <clipPath id="p12303fe849">
   <rect x="1027" y="11.9" width="761.8" height="557.1"/>
  </clipPath>
 </defs>
</svg>

</body></html>
